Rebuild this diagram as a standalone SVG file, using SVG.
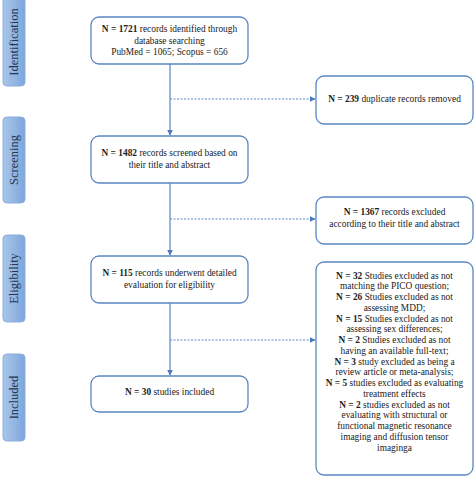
<svg xmlns="http://www.w3.org/2000/svg" width="474" height="477" viewBox="0 0 474 477">
<defs>
<linearGradient id="lab" x1="0" y1="0" x2="1" y2="0">
<stop offset="0" stop-color="#a9c6ea"/>
<stop offset="1" stop-color="#7ea6da"/>
</linearGradient>
<marker id="ah" viewBox="0 0 10 10" refX="9" refY="5" markerWidth="6" markerHeight="6" orient="auto" markerUnits="userSpaceOnUse">
<path d="M0,0 L10,5 L0,10 z" fill="#4a78b8"/>
</marker>
</defs>
<style>
.lab{fill:url(#lab);stroke:#8aaedc;stroke-width:1}
.labt{font-family:"Liberation Serif",serif;font-size:12.5px;fill:#24364d;text-anchor:middle}
.box{fill:#fff;stroke:#5a86c2;stroke-width:1.3}
.t{font-family:"Liberation Serif",serif;font-size:9.4px;fill:#222;text-anchor:middle}
.s{font-family:"Liberation Serif",serif;font-size:9.4px;fill:#222;text-anchor:middle}
.solid{stroke:#5a86c2;stroke-width:1.2;fill:none}
.dash{stroke:#5a86c2;stroke-width:1;stroke-dasharray:2,1.5;fill:none}
</style>
<g id="label-identification"><rect class="lab" x="3" y="-8" width="22" height="94" rx="4"/><text class="labt" transform="translate(18,42) rotate(-90)">Identification</text></g>
<g id="label-screening"><rect class="lab" x="3" y="117" width="22" height="86" rx="4"/><text class="labt" transform="translate(18,160) rotate(-90)">Screening</text></g>
<g id="label-eligibility"><rect class="lab" x="3" y="235" width="22" height="87" rx="4"/><text class="labt" transform="translate(18,278.5) rotate(-90)">Eligibility</text></g>
<g id="label-included"><rect class="lab" x="3" y="354" width="22" height="87" rx="4"/><text class="labt" transform="translate(18,397.5) rotate(-90)">Included</text></g>
<g id="connectors">
<line class="solid" x1="170" y1="64" x2="170" y2="135" marker-end="url(#ah)"/>
<line class="solid" x1="170" y1="183" x2="170" y2="255" marker-end="url(#ah)"/>
<line class="solid" x1="170" y1="303" x2="170" y2="375" marker-end="url(#ah)"/>
<line class="dash" x1="170" y1="99" x2="315" y2="99" marker-end="url(#ah)"/>
<line class="dash" x1="170" y1="219" x2="315" y2="219" marker-end="url(#ah)"/>
<line class="dash" x1="170" y1="340" x2="315" y2="340" marker-end="url(#ah)"/>
</g>
<g id="box1"><rect class="box" x="91" y="17" width="157" height="47" rx="8"/>
<text class="t" x="169.5" y="32.3"><tspan font-weight="bold">N = 1721</tspan> records identified through</text>
<text class="t" x="169.5" y="43.8">database searching</text>
<text class="t" x="169.5" y="55.3">PubMed = 1065; Scopus = 656</text></g>
<g id="box2"><rect class="box" x="91" y="136" width="157" height="47" rx="8"/>
<text class="t" x="169.5" y="156.3"><tspan font-weight="bold">N = 1482</tspan> records screened based on</text>
<text class="t" x="169.5" y="167.5">their title and abstract</text></g>
<g id="box3"><rect class="box" x="91" y="256" width="157" height="47" rx="8"/>
<text class="t" x="169.5" y="276.3"><tspan font-weight="bold">N = 115</tspan> records underwent detailed</text>
<text class="t" x="169.5" y="287.5">evaluation for eligibility</text></g>
<g id="box4"><rect class="box" x="91" y="376" width="157" height="36" rx="8"/>
<text class="t" x="169.5" y="394.5"><tspan font-weight="bold">N = 30</tspan> studies included</text></g>
<g id="excl1"><rect class="box" x="316" y="76" width="157" height="48" rx="8"/>
<text class="t" x="394.5" y="102"><tspan font-weight="bold">N = 239</tspan> duplicate records removed</text></g>
<g id="excl2"><rect class="box" x="316" y="197" width="157" height="47" rx="8"/>
<text class="t" x="394.5" y="215"><tspan font-weight="bold">N = 1367</tspan> records excluded</text>
<text class="t" x="394.5" y="226.5">according to their title and abstract</text></g>
<g id="excl3"><rect class="box" x="316" y="262" width="157" height="213" rx="8"/>
<text class="s" x="394.5" y="278.5"><tspan font-weight="bold">N = 32</tspan> Studies excluded as not</text>
<text class="s" x="394.5" y="289.25">matching the PICO question;</text>
<text class="s" x="394.5" y="300"><tspan font-weight="bold">N = 26</tspan> Studies excluded as not</text>
<text class="s" x="394.5" y="310.75">assessing MDD;</text>
<text class="s" x="394.5" y="321.5"><tspan font-weight="bold">N = 15</tspan> Studies excluded as not</text>
<text class="s" x="394.5" y="332.25">assessing sex differences;</text>
<text class="s" x="394.5" y="343"><tspan font-weight="bold">N = 2</tspan> Studies excluded as not</text>
<text class="s" x="394.5" y="353.75">having an available full-text;</text>
<text class="s" x="394.5" y="364.5"><tspan font-weight="bold">N = 3</tspan> study excluded as being a</text>
<text class="s" x="394.5" y="375.25">review article or meta-analysis;</text>
<text class="s" x="394.5" y="386"><tspan font-weight="bold">N = 5</tspan> studies excluded as evaluating</text>
<text class="s" x="394.5" y="396.75">treatment effects</text>
<text class="s" x="394.5" y="407.5"><tspan font-weight="bold">N = 2</tspan> studies excluded as not</text>
<text class="s" x="394.5" y="418.25">evaluating with structural or</text>
<text class="s" x="394.5" y="429">functional magnetic resonance</text>
<text class="s" x="394.5" y="439.75">imaging and diffusion tensor</text>
<text class="s" x="394.5" y="450.5">imaginga</text></g>
</svg>
